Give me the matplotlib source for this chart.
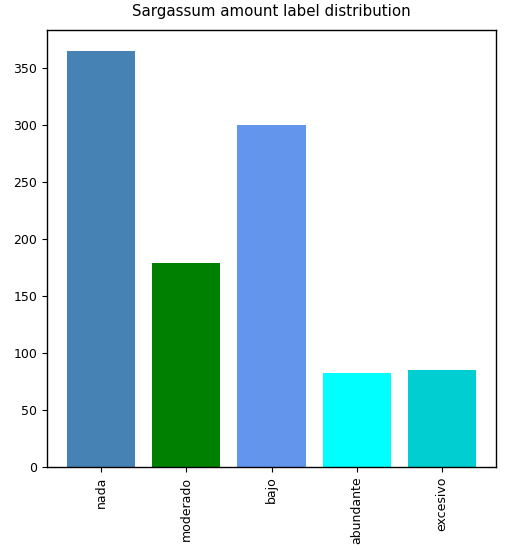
import matplotlib
matplotlib.use("Agg")
import matplotlib.pyplot as plt

# label counts
labels = ["nada", "moderado", "bajo", "abundante", "excesivo"]
counts = [365, 179, 300, 82, 85]
colors = ["steelblue", "green", "cornflowerblue", "cyan", "darkturquoise"]

fig = plt.figure(figsize=(5.09, 5.5), dpi=100)
ax = fig.add_axes([0.0923, 0.1509, 0.8822, 0.7946])

ax.bar(labels, counts, color=colors)
ax.set_title("Sargassum amount label distribution", fontsize=10.8, pad=10)
ax.tick_params(labelsize=9)
plt.xticks(rotation=90)
for s in ax.spines.values():
    s.set_linewidth(1.0)

fig.savefig("out.png", dpi=100)
